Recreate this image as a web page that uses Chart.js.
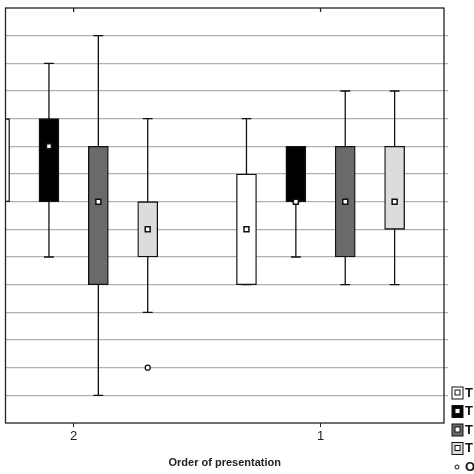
<!DOCTYPE html>
<html><head><meta charset="utf-8">
<script src="https://cdn.jsdelivr.net/npm/chart.js@4"></script>
<style>html,body{margin:0;padding:0;background:#fff}#w{width:474px;height:474px}</style>
</head><body><div id="w"><canvas id="c"></canvas></div>
<script>
const categories = ["2", "1"];
const categoryPos = [1, 2];
const seriesOffsets = [-0.3, -0.1, 0.1, 0.3];
const seriesColors = ["#ffffff", "#000000", "#6a6a6a", "#dcdcdc"];
const legendLabels = ["T", "T", "T", "T", "O"];
// per series: [group "2", group "1"]
const q1 = [[8, 5], [8, 8], [5, 6], [6, 7]];
const q3 = [[11, 9], [11, 10], [10, 10], [8, 10]];
const medians = [[null, 7], [10, 8], [8, 8], [7, 8]];
const whiskLo = [[null, 5], [6, 6], [1, 5], [4, 5]];
const whiskHi = [[null, 11], [13, 8], [14, 12], [11, 12]];
const outliers = [{series: 3, group: 0, value: 2}];
const yTicks = [1,2,3,4,5,6,7,8,9,10,11,12,13,14];

const datasets = [];
const capHalf = 0.02;
const wpts = [];
for (let s = 0; s < 4; s++) for (let g = 0; g < 2; g++) {
  if (whiskLo[s][g] == null) continue;
  const x = categoryPos[g] + seriesOffsets[s];
  wpts.push({x, y: whiskLo[s][g]}, {x, y: whiskHi[s][g]}, {x, y: null});
  wpts.push({x: x - capHalf, y: whiskLo[s][g]}, {x: x + capHalf, y: whiskLo[s][g]}, {x, y: null});
  wpts.push({x: x - capHalf, y: whiskHi[s][g]}, {x: x + capHalf, y: whiskHi[s][g]}, {x, y: null});
}
datasets.push({type: 'scatter', data: wpts, showLine: true, spanGaps: false, borderColor: '#111', borderWidth: 1.3, pointRadius: 0, order: 3});
for (let s = 0; s < 4; s++) {
  datasets.push({type: 'bar', data: categoryPos.map((p, g) => ({x: p + seriesOffsets[s], y: [q1[s][g], q3[s][g]]})),
    backgroundColor: seriesColors[s], borderColor: '#111', borderWidth: 1.3, borderSkipped: false, barThickness: 20, grouped: false, order: 2});
}
const mpts = [];
for (let s = 0; s < 4; s++) for (let g = 0; g < 2; g++) if (medians[s][g] != null) mpts.push({x: categoryPos[g] + seriesOffsets[s], y: medians[s][g]});
datasets.push({type: 'scatter', data: mpts, pointStyle: 'rect', pointRadius: 3.5, backgroundColor: '#fff', borderColor: '#111', borderWidth: 1.5, order: 1});
datasets.push({type: 'scatter', data: outliers.map(o => ({x: categoryPos[o.group] + seriesOffsets[o.series], y: o.value})),
  pointStyle: 'circle', pointRadius: 2.5, backgroundColor: '#fff', borderColor: '#111', borderWidth: 1.3, order: 1});

const extras = {
  id: 'extras',
  beforeDraw(c) { const x = c.ctx; x.save(); x.fillStyle = '#fff'; x.fillRect(0, 0, c.width, c.height); x.restore(); },
  afterDraw(c) {
    const x = c.ctx, a = c.chartArea;
    x.save();
    x.strokeStyle = '#222'; x.lineWidth = 1.3;
    x.strokeRect(a.left, a.top, a.right - a.left, a.bottom - a.top);
    categoryPos.forEach(p => { const px = c.scales.x.getPixelForValue(p); x.beginPath(); x.moveTo(px, a.top); x.lineTo(px, a.top + 4); x.stroke(); });
    x.font = 'bold 13px "Liberation Sans", Arial';
    x.textBaseline = 'middle';
    for (let i = 0; i < 5; i++) {
      const cy = 393 + i * 18.5;
      if (i < 4) {
        x.fillStyle = seriesColors[i]; x.fillRect(452, cy - 6, 11, 12);
        x.strokeStyle = '#111'; x.lineWidth = 1; x.strokeRect(452, cy - 6, 11, 12);
        x.fillStyle = '#fff'; x.fillRect(455, cy - 3, 5, 5); x.strokeRect(455, cy - 3, 5, 5);
      } else {
        x.beginPath(); x.arc(457, cy, 2, 0, Math.PI * 2); x.fillStyle = '#fff'; x.fill(); x.stroke();
      }
      x.fillStyle = '#111'; x.fillText(legendLabels[i], 465, cy);
    }
    x.restore();
  }
};

new Chart(document.getElementById('c'), {
  data: {datasets},
  options: {
    responsive: true, maintainAspectRatio: false, animation: false,
    layout: {padding: {left: -6, top: 8, right: 26, bottom: 0}},
    plugins: {legend: {display: false}, tooltip: {enabled: false}},
    scales: {
      x: {type: 'linear', min: 0.724, max: 2.5, offset: false,
        afterBuildTicks: s => { s.ticks = categoryPos.map(v => ({value: v})); },
        afterFit: s => { s.height = 51; },
        ticks: {callback: v => categories[categoryPos.indexOf(v)], color: '#222', font: {size: 13, family: '"Liberation Sans", Arial'}, padding: 2, maxRotation: 0},
        grid: {offset: false, drawOnChartArea: false, drawTicks: true, tickLength: 4, color: '#222'},
        border: {display: false},
        title: {display: true, text: 'Order of presentation', color: '#222', font: {size: 11, weight: 'bold', family: '"Liberation Sans", Arial'}, padding: {top: 0}}
      },
      y: {position: 'right', min: 0, max: 15,
        afterBuildTicks: s => { s.ticks = yTicks.map(v => ({value: v})); },
        afterFit: s => { s.width = 4; },
        ticks: {display: false},
        grid: {color: '#b0b0b0', lineWidth: 1.2, drawTicks: true, tickLength: 4},
        border: {display: false}
      }
    }
  },
  plugins: [extras]
});
</script></body></html>
